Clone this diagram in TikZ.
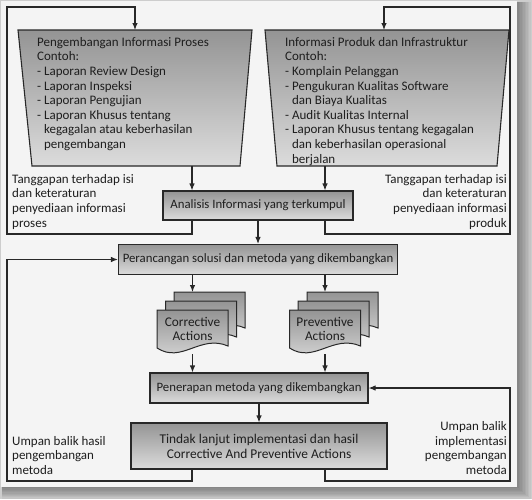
\documentclass[tikz,border=0pt]{standalone}
\usepackage{fontspec}
\setmainfont{Carlito}
\usetikzlibrary{arrows.meta,calc}
\definecolor{bg}{RGB}{205,205,205}
\definecolor{panel}{RGB}{244,244,244}
\definecolor{linec}{RGB}{40,40,40}
\definecolor{txt}{RGB}{30,30,30}
\definecolor{shtop}{RGB}{148,148,148}
\definecolor{shbot}{RGB}{220,220,220}
\tikzset{
  conn/.style={draw=linec, line width=1.1pt},
  arr/.style={conn, -{Latex[length=7pt,width=5.5pt]}},
  boxn/.style={draw=linec, line width=1.1pt, top color=shtop, bottom color=shbot,
    inner sep=0pt, font=\fontsize{12.8}{14.5}\selectfont, text=txt},
  lbl/.style={inner sep=0pt, font=\fontsize{13}{14.6}\selectfont, text=txt},
  doct/.style={inner sep=0pt, align=center, font=\fontsize{13.3}{14}\selectfont, text=txt},
  shapeline/.style={draw=linec, line width=1.1pt, top color=shtop, bottom color=shbot},
}
\newcommand\docshape[2]{%
  \path[shapeline, line width=1pt, shift={(#1,#2)}]
    (0,0) -- (71,0) -- (71,36) .. controls (43,24) and (25,54) .. (0,38) -- cycle;}
\begin{document}
\begin{tikzpicture}[x=1pt,y=-1pt]
\useasboundingbox (0,0) rectangle (532,499);
\fill[bg] (0,0) rectangle (532,499);
\foreach \d in {1,...,9} {
  \fill[black, opacity=0.045] (2,2) rectangle ({517+\d*1.5},{487+\d*1.3});
}
\fill[panel] (1,1) rectangle (517,487);

% trapezoids
\path[shapeline] (18,30) -- (252,30) -- (240,166) -- (32,166) -- cycle;
\path[shapeline] (265,30) -- (509,30) -- (497,166) -- (277,166) -- cycle;
\coordinate (ltop) at (135,30);
\coordinate (lbot) at (192,166);
\coordinate (rtop) at (384,30);
\coordinate (rbot) at (325,166);

\node[lbl, anchor=north west, align=left] (ltext) at (37,37) {Pengembangan Informasi Proses\\
Contoh:\\
- Laporan Review Design\\
- Laporan Inspeksi\\
- Laporan Pengujian\\
- Laporan Khusus tentang\\
\phantom{- }kegagalan atau keberhasilan\\
\phantom{- }pengembangan};

\node[lbl, anchor=north west, align=left] (rtext) at (285,37) {Informasi Produk dan Infrastruktur\\
Contoh:\\
- Komplain Pelanggan\\
- Pengukuran Kualitas Software\\
\phantom{- }dan Biaya Kualitas\\
- Audit Kualitas Internal\\
- Laporan Khusus tentang kegagalan\\
\phantom{- }dan keberhasilan operasional\\
\phantom{- }berjalan};

% boxes
\node[boxn, minimum width=190pt, minimum height=29pt] (anal) at (258,205.5) {Analisis Informasi yang terkumpul};
\node[boxn, minimum width=279pt, minimum height=30pt] (peran) at (258,259.5) {Perancangan solusi dan metoda yang dikembangkan};
\node[boxn, minimum width=218pt, minimum height=30pt] (pener) at (259,388) {Penerapan metoda yang dikembangkan};
\node[boxn, minimum width=256pt, minimum height=46pt, align=center, font=\fontsize{13.4}{15}\selectfont] (tind) at (259,446) {Tindak lanjut implementasi dan hasil\\Corrective And Preventive Actions};

% documents
\docshape{174}{292}
\docshape{165.5}{301}
\docshape{157}{310}
\docshape{307}{292}
\docshape{298}{301}
\docshape{289.5}{310}
\node[doct] (corr) at (192.5,329) {Corrective\\Actions};
\node[doct] (prev) at (325,329) {Preventive\\Actions};
\coordinate (ctop) at (192.5,292);
\coordinate (cbot) at (192.5,354);
\coordinate (ptop) at (325,292);
\coordinate (pbot) at (325,354);

% corner coordinates
\coordinate (tl) at (7,7);
\coordinate (tr) at (510,7);
\coordinate (bl) at (7,481);
\coordinate (br) at (510,481);
\coordinate (lowy) at (0,234);

% arrows
\draw[arr] (lbot) -- (lbot |- anal.north);
\draw[arr] (rbot) -- (rbot |- anal.north);
\draw[arr] (anal.south) -- (peran.north);
\draw[arr] (peran.south -| ctop) -- (ctop);
\draw[arr] (peran.south -| ptop) -- (ptop);
\draw[arr] (cbot) -- (cbot |- pener.north);
\draw[arr] (pbot) -- (pbot |- pener.north);
\draw[arr] (pener.south) -- (tind.north);

% feedback loops
\draw[arr] (anal.south -| lbot) -- (lbot |- lowy) -- (tl |- lowy) -- (tl) -- (tl -| ltop) -- (ltop);
\draw[arr] (anal.south -| rbot) -- (rbot |- lowy) -- (tr |- lowy) -- (tr) -- (tr -| rtop) -- (rtop);
\draw[arr] (tind.south -| lbot) -- (lbot |- bl) -- (bl) -- (bl |- peran.west) -- (peran.west);
\draw[arr] (tind.south -| rbot) -- (rbot |- br) -- (br) -- (br |- pener.east) -- (pener.east);

% side labels
\node[lbl, anchor=north west, align=left] (tl1) at (12,174) {Tanggapan terhadap isi\\dan keteraturan\\penyediaan informasi\\proses};
\node[lbl, anchor=north east, align=right] (tr1) at (507,174) {Tanggapan terhadap isi\\dan keteraturan\\penyediaan informasi\\produk};
\node[lbl, anchor=north west, align=left] (bl1) at (12,436) {Umpan balik hasil\\pengembangan\\metoda};
\node[lbl, anchor=north east, align=right] (br1) at (507,421.5) {Umpan balik\\implementasi\\pengembangan\\metoda};
\end{tikzpicture}
\end{document}
